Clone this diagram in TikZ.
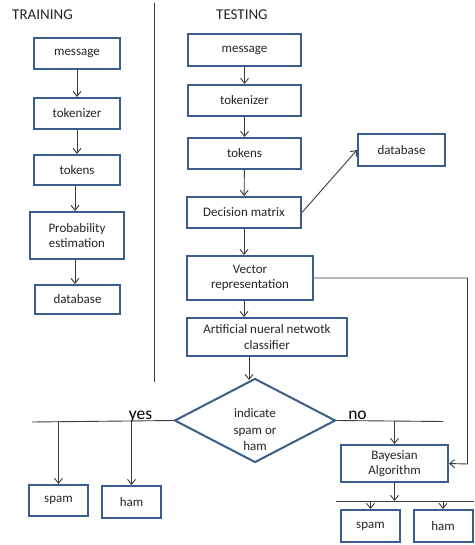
\documentclass[tikz,border=0pt]{standalone}
\usepackage{fontspec}
\setmainfont{Carlito}
\usetikzlibrary{shapes.geometric,arrows.meta}
\definecolor{boxblue}{HTML}{3A5F8F}
\definecolor{txt}{HTML}{262626}
\definecolor{ln}{HTML}{3C3C3C}
\begin{document}
\begin{tikzpicture}[x=1pt,y=-1pt,
  box/.style={draw=boxblue,line width=2pt,fill=white,inner sep=0pt,align=center,text=txt,font=\fontsize{13}{15.6}\selectfont},
  conn/.style={draw=ln,line width=0.9pt},
  arr/.style={conn,-{Straight Barb[length=5pt,width=8pt]}},
  title/.style={inner sep=0pt,text=txt,font=\fontsize{15}{18}\selectfont},
  lbl/.style={inner sep=0pt,text=black,font=\fontsize{17.5}{20}\selectfont},
  dtext/.style={inner sep=0pt,align=center,text=txt,font=\fontsize{13}{16.5}\selectfont}]
\useasboundingbox[fill=white] (0,0) rectangle (474,545);

% titles and divider
\node[title,anchor=base west] (train) at (12,19.5) {TRAINING};
\node[title,anchor=base west] (test) at (216,19.5) {TESTING};
\coordinate (divtop) at (154,3);
\coordinate (divbot) at (154,382);
\draw[draw=ln,line width=1pt] (divtop) -- (divbot);

% training column
\node[box,minimum width=86pt,minimum height=31pt] (tmsg) at (77,53.5) {message};
\node[box,minimum width=86pt,minimum height=31pt] (ttok) at (77,113.5) {tokenizer};
\node[box,minimum width=86pt,minimum height=30pt] (ttokens) at (77,170) {tokens};
\node[box,minimum width=94pt,minimum height=47pt] (tprob) at (77,235.5) {Probability\\estimation};
\node[box,minimum width=85pt,minimum height=29pt] (tdb) at (77.5,299.5) {database};
\draw[arr] (tmsg) -- (ttok);
\draw[arr] (ttok) -- (ttokens);
\draw[arr] (ttokens.south -| 75,0) -- (tprob.north -| 75,0);
\draw[arr] (tprob.south -| 75,0) -- (tdb.north -| 75,0);

% testing column
\node[box,minimum width=113pt,minimum height=32pt] (smsg) at (244.5,50) {message};
\node[box,minimum width=113pt,minimum height=31pt] (stok) at (244.5,100.5) {tokenizer};
\node[box,minimum width=113pt,minimum height=31pt] (stokens) at (244.5,153.5) {tokens};
\node[box,minimum width=114pt,minimum height=31pt] (sdec) at (244,212.5) {Decision matrix};
\node[box,minimum width=87pt,minimum height=32pt] (sdb) at (401.5,150) {database};
\node[box,minimum width=126pt,minimum height=44pt] (svec) at (250,278) {Vector\\representation};
\node[box,minimum width=160pt,minimum height=38pt] (sann) at (267,337) {Artificial nueral netwotk\\classifier};
\node[diamond,draw=boxblue,line width=2pt,fill=white,inner sep=0pt,aspect=1.9,
      minimum width=161pt,minimum height=84pt] (dia) at (255,420.5) {};
\node[dtext] (diat) at (255,430) {indicate\\spam or\\ham};
\coordinate (annin) at (249,380);

\draw[arr] (smsg) -- (stok);
\draw[arr] (stok) -- (stokens);
\draw[arr] (stokens) -- (sdec);
\draw[arr] (sdec.east) -- (sdb.west);
\draw[arr] (sdec.south) -- (svec.north -| sdec.south);
\draw[arr] (svec.south -| sdec.south) -- (sann.north -| sdec.south);
\draw[arr] (sann.south -| annin) -- (annin);

% yes branch
\node[lbl,anchor=base] (yes) at (140.5,419) {yes};
\coordinate (lend) at (32,422);
\node[box,minimum width=59pt,minimum height=31pt] (lspam) at (58.5,500.5) {spam};
\node[box,minimum width=59pt,minimum height=32pt] (lham) at (131.5,502) {ham};
\draw[conn] (lend) -- (dia.west);
\draw[arr] (lspam.north |- dia.west) -- (lspam.north);
\draw[arr] (lham.north |- dia.west) -- (lham.north);

% no branch
\node[lbl,anchor=base] (no) at (357.5,419) {no};
\coordinate (rend) at (443,421.5);
\node[box,minimum width=107pt,minimum height=37pt] (bayes) at (394.5,463.5) {Bayesian\\Algorithm};
\draw[conn] (dia.east) -- (rend);
\draw[arr] (bayes.north |- dia.east) -- (bayes.north);

% feedback from vector representation
\coordinate (fbc) at (467.5,464);
\draw[arr] (svec.east) -| (fbc) -- (bayes.east);

% bayes outputs
\coordinate (rlA) at (336,501);
\coordinate (rlB) at (474,501);
\node[box,minimum width=59pt,minimum height=32pt] (rspam) at (370.5,526) {spam};
\node[box,minimum width=59pt,minimum height=32pt] (rham) at (443,526) {ham};
\draw[conn] (rlA) -- (rlB);
\draw[arr] (bayes.south) -- (bayes.south |- rlA);
\draw[arr] (rspam.north |- rlA) -- (rspam.north);
\draw[arr] (rham.north |- rlA) -- (rham.north);
\end{tikzpicture}
\end{document}
